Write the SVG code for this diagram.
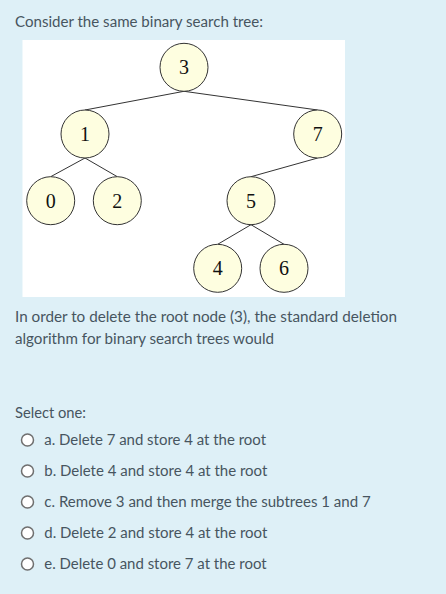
<svg xmlns="http://www.w3.org/2000/svg" width="446" height="594" viewBox="0 0 446 594">
<style>
.t{font-family:"Lato","Open Sans","Liberation Sans",sans-serif;font-size:15.5px;fill:#47555f}
.n circle{fill:#fefee0;stroke:#333;stroke-width:1}
.n text{font-family:"Liberation Serif","DejaVu Serif",serif;font-size:20px;fill:#111;text-anchor:middle}
.e line{stroke:#333;stroke-width:1}
.r{fill:#fff;stroke:#6f6f6f;stroke-width:1.5}
</style>
<rect width="446" height="594" fill="#def0f7"/>
<text class="t" x="15" y="27" textLength="248" lengthAdjust="spacingAndGlyphs">Consider the same binary search tree:</text>
<rect x="22.5" y="40" width="322.5" height="257" fill="#fff"/>
<g class="e">
<line x1="184" y1="91.3" x2="85" y2="110"/>
<line x1="184" y1="91.3" x2="317.7" y2="110"/>
<line x1="85" y1="158" x2="50.7" y2="176.7"/>
<line x1="85" y1="158" x2="117.3" y2="176.7"/>
<line x1="317.7" y1="158" x2="251" y2="176.7"/>
<line x1="251" y1="224.7" x2="217.7" y2="244.3"/>
<line x1="251" y1="224.7" x2="284" y2="244.3"/>
</g>
<g id="n3" class="n"><circle cx="184" cy="67.3" r="24"/><text x="184" y="74.3">3</text></g>
<g id="n1" class="n"><circle cx="85" cy="134" r="24"/><text x="85" y="141">1</text></g>
<g id="n7" class="n"><circle cx="317.7" cy="134" r="24"/><text x="317.7" y="141">7</text></g>
<g id="n0" class="n"><circle cx="50.7" cy="200.7" r="24"/><text x="50.7" y="207.7">0</text></g>
<g id="n2" class="n"><circle cx="117.3" cy="200.7" r="24"/><text x="117.3" y="207.7">2</text></g>
<g id="n5" class="n"><circle cx="251" cy="200.7" r="24"/><text x="251" y="207.7">5</text></g>
<g id="n4" class="n"><circle cx="217.7" cy="268.3" r="24"/><text x="217.7" y="275.3">4</text></g>
<g id="n6" class="n"><circle cx="284" cy="268.3" r="24"/><text x="284" y="275.3">6</text></g>
<text class="t" x="15" y="322" textLength="382" lengthAdjust="spacingAndGlyphs">In order to delete the root node (3), the standard deletion</text>
<text class="t" x="15" y="344" textLength="259" lengthAdjust="spacingAndGlyphs">algorithm for binary search trees would</text>
<text class="t" x="15" y="418" textLength="71" lengthAdjust="spacingAndGlyphs">Select one:</text>
<circle class="r" cx="27.5" cy="440" r="6"/>
<text class="t" x="44.3" y="445" textLength="221.7" lengthAdjust="spacingAndGlyphs">a. Delete 7 and store 4 at the root</text>
<circle class="r" cx="27.5" cy="471" r="6"/>
<text class="t" x="44.3" y="476" textLength="223" lengthAdjust="spacingAndGlyphs">b. Delete 4 and store 4 at the root</text>
<circle class="r" cx="27.5" cy="502" r="6"/>
<text class="t" x="44.3" y="507" textLength="326.4" lengthAdjust="spacingAndGlyphs">c. Remove 3 and then merge the subtrees 1 and 7</text>
<circle class="r" cx="27.5" cy="533" r="6"/>
<text class="t" x="44.3" y="538" textLength="223" lengthAdjust="spacingAndGlyphs">d. Delete 2 and store 4 at the root</text>
<circle class="r" cx="27.5" cy="564" r="6"/>
<text class="t" x="44.3" y="569" textLength="222.3" lengthAdjust="spacingAndGlyphs">e. Delete 0 and store 7 at the root</text>
</svg>
